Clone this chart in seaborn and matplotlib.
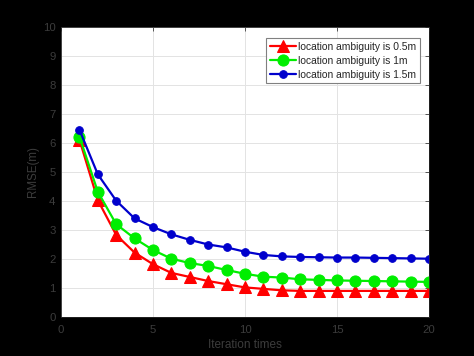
import numpy as np
import pandas as pd
import matplotlib
matplotlib.use("Agg")
import matplotlib.pyplot as plt
import seaborn as sns

iterations = list(range(1, 21))
rmse_05 = [6.12, 4.03, 2.83, 2.22, 1.82, 1.52, 1.38, 1.24, 1.13, 1.02, 0.97, 0.92, 0.9, 0.9, 0.9, 0.9, 0.9, 0.9, 0.9, 0.9]
rmse_1 = [6.22, 4.32, 3.2, 2.71, 2.31, 2.01, 1.86, 1.76, 1.62, 1.49, 1.39, 1.36, 1.3, 1.28, 1.26, 1.25, 1.24, 1.23, 1.22, 1.21]
rmse_15 = [6.46, 4.92, 4.01, 3.4, 3.1, 2.85, 2.66, 2.5, 2.4, 2.25, 2.14, 2.09, 2.07, 2.06, 2.05, 2.05, 2.04, 2.03, 2.02, 2.01]
labels = ["location ambiguity is 0.5m", "location ambiguity is 1m", "location ambiguity is 1.5m"]
x_ticks = [0, 5, 10, 15, 20]
y_ticks = list(range(0, 11))

sns.set_theme(style="whitegrid")
plt.rcParams['font.family'] = ['Liberation Sans', 'DejaVu Sans']

fig = plt.figure(figsize=(4.74, 3.56), dpi=100, facecolor='black')
ax = fig.add_axes([61/474, 1-317/356, (429-61)/474, (317-27)/356])
ax.set_facecolor('white')

styles = [
    dict(color='#ff0000', marker='^', markersize=8.5),
    dict(color='#00ee00', marker='o', markersize=8),
    dict(color='#0000cc', marker='o', markersize=5.5),
]
for vals, lab, st in zip([rmse_05, rmse_1, rmse_15], labels, styles):
    df = pd.DataFrame({"x": iterations, "y": vals})
    sns.lineplot(data=df, x="x", y="y", ax=ax, label=lab, color=st['color'],
                 marker=st['marker'], markersize=st['markersize'],
                 markeredgecolor=st['color'], linewidth=1.6)

ax.set_xlim(0, 20)
ax.set_ylim(0, 10)
ax.set_xticks(x_ticks)
ax.set_yticks(y_ticks)
tc = '#3c3c3c'
ax.tick_params(axis='both', which='both', direction='in', length=3, width=0.6,
               colors=tc, labelsize=8.2, top=True, right=True,
               labelcolor=tc)
ax.tick_params(axis='x', pad=6)
ax.tick_params(axis='y', pad=4)
ax.grid(True, color='#e3e3e3', linewidth=0.7)
for s in ax.spines.values():
    s.set_color('#262626')
    s.set_linewidth(0.6)
ax.set_xlabel("Iteration times", color=tc, fontsize=8.5, labelpad=3)
ax.set_ylabel("RMSE(m)", color=tc, fontsize=8.3, labelpad=3)

leg = ax.legend(loc='upper right', bbox_to_anchor=(0.976, 0.962), fontsize=7.4,
                frameon=True, fancybox=False, borderpad=0.35, labelspacing=0.4,
                handlelength=2.6, handletextpad=0.2, borderaxespad=0.0)
leg.get_frame().set_edgecolor('#808080')
leg.get_frame().set_linewidth(0.8)
leg.get_frame().set_alpha(1)

fig.savefig("out.png", dpi=100, facecolor='black')
